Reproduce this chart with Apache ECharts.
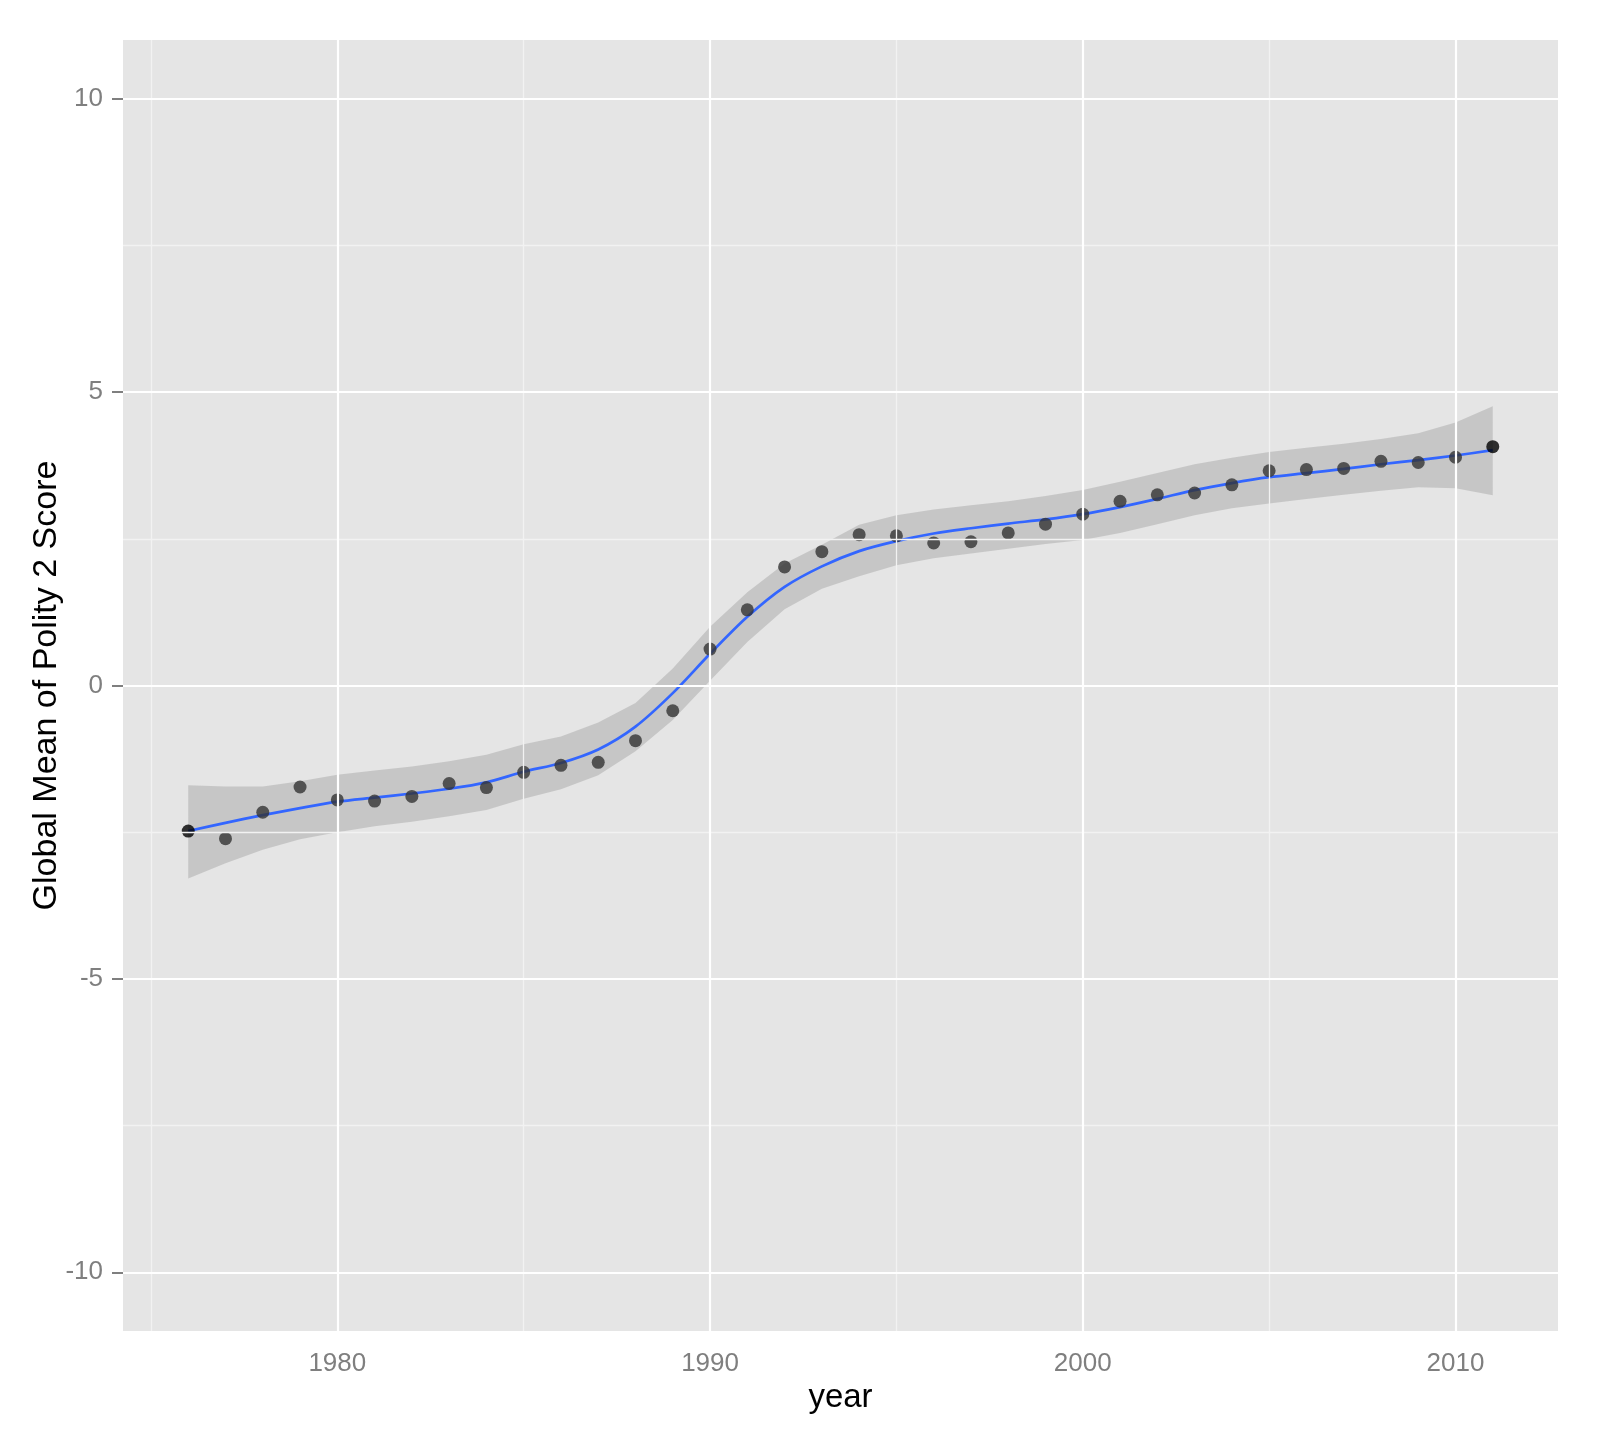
<!DOCTYPE html>
<html>
<head>
<meta charset="utf-8">
<script src="https://cdn.jsdelivr.net/npm/echarts@6/dist/echarts.min.js"></script>
<style>
html,body{margin:0;padding:0;background:#fff;}
#chart{width:1600px;height:1438px;}
</style>
</head>
<body>
<div id="chart"></div>
<script>
const years = [1976,1977,1978,1979,1980,1981,1982,1983,1984,1985,1986,1987,1988,1989,1990,1991,1992,1993,1994,1995,1996,1997,1998,1999,2000,2001,2002,2003,2004,2005,2006,2007,2008,2009,2010,2011];
const polityMean = [-2.48,-2.61,-2.16,-1.73,-1.95,-1.97,-1.89,-1.67,-1.74,-1.48,-1.36,-1.31,-0.94,-0.43,0.62,1.29,2.02,2.28,2.57,2.55,2.43,2.45,2.60,2.75,2.92,3.14,3.25,3.28,3.42,3.66,3.68,3.70,3.82,3.80,3.89,4.07];
const smoothFit = [-2.48,-2.34,-2.21,-2.09,-1.98,-1.91,-1.84,-1.76,-1.65,-1.47,-1.32,-1.09,-0.70,-0.13,0.54,1.17,1.68,2.03,2.29,2.46,2.59,2.68,2.76,2.83,2.92,3.04,3.18,3.33,3.45,3.55,3.62,3.69,3.77,3.84,3.92,4.01];
const bandLower = [-3.29,-3.03,-2.80,-2.62,-2.50,-2.40,-2.32,-2.23,-2.12,-1.93,-1.77,-1.53,-1.12,-0.59,0.08,0.74,1.30,1.65,1.86,2.05,2.17,2.25,2.33,2.41,2.48,2.60,2.75,2.90,3.02,3.10,3.18,3.25,3.32,3.38,3.36,3.24];
const bandUpper = [-1.70,-1.72,-1.72,-1.63,-1.52,-1.45,-1.38,-1.29,-1.18,-1.00,-0.87,-0.63,-0.30,0.29,1.00,1.59,2.08,2.40,2.74,2.90,3.00,3.07,3.14,3.23,3.33,3.47,3.62,3.77,3.88,3.98,4.05,4.12,4.20,4.30,4.48,4.76];
const xTickLabels = [1980,1990,2000,2010];
const xMinorLines = [1975,1985,1995,2005];
const yTickLabels = [-10,-5,0,5,10];
const yMinorLines = [-7.5,-2.5,2.5,7.5];

const FONT = '"Liberation Sans", Arial, sans-serif';
const chart = echarts.init(document.getElementById('chart'), null, {renderer:'canvas'});

const gridMarks = [];
xMinorLines.forEach(v => gridMarks.push({xAxis:v, lineStyle:{color:'#F2F2F2', width:1.3, type:'solid'}}));
yMinorLines.forEach(v => gridMarks.push({yAxis:v, lineStyle:{color:'#F2F2F2', width:1.3, type:'solid'}}));
xTickLabels.forEach(v => gridMarks.push({xAxis:v, lineStyle:{color:'#FFFFFF', width:2.2, type:'solid'}}));
yTickLabels.forEach(v => gridMarks.push({yAxis:v, lineStyle:{color:'#FFFFFF', width:2.2, type:'solid'}}));

const option = {
  animation:false,
  backgroundColor:'#FFFFFF',
  grid:{left:123, right:42, top:40, bottom:107, show:true, backgroundColor:'#E5E5E5', borderWidth:0},
  xAxis:{
    type:'value', min:1974.25, max:2012.75,
    name:'year', nameLocation:'middle', nameGap:46,
    nameTextStyle:{color:'#000', fontSize:33, fontFamily:FONT},
    axisLine:{show:false},
    splitLine:{show:false},
    axisTick:{show:true, length:11, customValues:xTickLabels, lineStyle:{color:'#7F7F7F', width:2}},
    axisLabel:{show:true, customValues:xTickLabels, margin:20, color:'#7F7F7F', fontSize:26, fontFamily:FONT,
      formatter:function(v){ return String(v); }}
  },
  yAxis:{
    type:'value', min:-11, max:11,
    name:'Global Mean of Polity 2 Score', nameLocation:'middle', nameGap:59, nameMoveOverlap:false,
    nameTextStyle:{color:'#000', fontSize:34, fontFamily:FONT},
    axisLine:{show:false},
    splitLine:{show:false},
    axisTick:{show:true, length:11, customValues:yTickLabels, lineStyle:{color:'#7F7F7F', width:2}},
    axisLabel:{show:true, customValues:yTickLabels, margin:20, color:'#7F7F7F', fontSize:26, fontFamily:FONT,
      formatter:function(v){ return String(v); }}
  },
  series:[
    {
      type:'line', data:[], z:1, silent:true,
      markLine:{silent:true, symbol:['none','none'], label:{show:false}, animation:false, data:gridMarks}
    },
    {
      type:'custom', z:2, silent:true,
      data:[[years[0], bandLower[0]]],
      renderItem:function(params, api){
        const pts = [];
        for (let i = 0; i < years.length; i++) pts.push(api.coord([years[i], bandUpper[i]]));
        for (let i = years.length - 1; i >= 0; i--) pts.push(api.coord([years[i], bandLower[i]]));
        return {type:'polygon', shape:{points:pts}, style:{fill:'rgba(153,153,153,0.4)', stroke:null}};
      }
    },
    {
      type:'line', z:3, smooth:0.3, showSymbol:false, silent:true,
      data: years.map((y,i)=>[y, smoothFit[i]]),
      lineStyle:{color:'#3366FF', width:2.7}
    },
    {
      type:'scatter', z:4, symbolSize:13, silent:true,
      data: years.map((y,i)=>[y, polityMean[i]]),
      itemStyle:{color:function(p){ return (p.dataIndex===0 || p.dataIndex===years.length-1) ? '#000000' : '#333333'; }}
    }
  ]
};
chart.setOption(option);
</script>
</body>
</html>
